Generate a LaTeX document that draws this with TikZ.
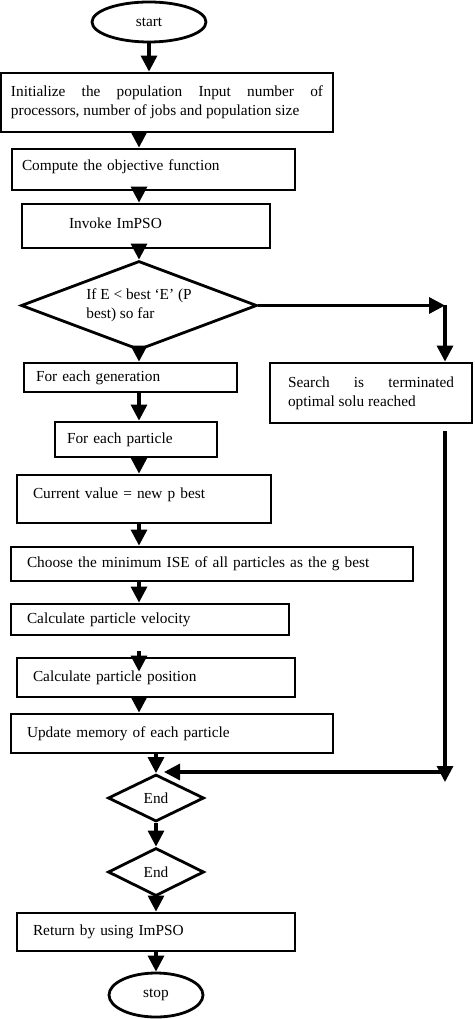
\documentclass[tikz,border=0pt]{standalone}
\usepackage{fontspec}
\setmainfont{Liberation Serif}
\usetikzlibrary{arrows.meta,shapes.geometric,calc}
\hyphenpenalty=10000
\exhyphenpenalty=10000

\begin{document}
\begin{tikzpicture}[x=.75pt, y=-.75pt, line width=2.1pt,
  font=\fontsize{11.5}{14.2}\selectfont,
  box/.style={draw, rectangle, inner ysep=0pt, inner xsep=12pt, align=left},
  term/.style={draw, ellipse, inner sep=0pt},
  test/.style={draw, diamond, inner sep=0pt, aspect=2.6},
  arr/.style={line width=2.4pt, -{Triangle[length=12pt,width=12pt]}}]
  \useasboundingbox (0,0) rectangle (474,1019);
  \node [term, minimum width=85.5pt, minimum height=30pt] (start) at (149,22) {start};
  \node [box, text width=234pt, inner xsep=7.5pt, minimum height=44.25pt, align=justify] (init) at (167,102.5)
    {Initialize the population Input number of processors, number of jobs and population size};
  \node [box, text width=197.25pt, inner xsep=7.5pt, minimum height=30.75pt, text depth=6pt] (compute) at (153.5,169.5) {Compute the objective function};
  \node [box, text width=115.5pt, inner xsep=35.25pt, minimum height=33pt, text depth=4pt] (invoke) at (146,226) {Invoke ImPSO};
  \node [test, minimum width=177pt, minimum height=66.75pt, align=left] (dec) at (139,305.5) {If E < best ‘E’ (P\\best) so far};
  \node [box, text width=124.5pt, inner xsep=13.5pt, minimum height=45pt, align=justify] (search) at (371,393)
    {Search is terminated optimal solu reached};
  \node [box, text width=141.75pt, inner xsep=9pt, minimum height=21.75pt] (gen) at (130.5,377.5) {For each generation};
  \node [box, text width=103.5pt, inner xsep=9pt, minimum height=26.25pt] (particle) at (136,439.5) {For each particle};
  \node [box, text width=166.5pt, minimum height=36pt, text depth=9pt] (current) at (144,499) {Current value = new p best};
  \node [box, text width=277.5pt, minimum height=25.5pt] (choose) at (212,564) {Choose the minimum ISE of all particles as the g best};
  \node [box, text width=184.5pt, minimum height=23.25pt] (velocity) at (150,619.5) {Calculate particle velocity};
  \node [box, text width=184.5pt, minimum height=29.25pt] (position) at (156,677.5) {Calculate particle position};
  \node [box, text width=217.5pt, minimum height=29.25pt] (update) at (172,733.5) {Update memory of each particle};
  \node [test, aspect=2, minimum width=72pt, minimum height=35.25pt] (end1) at (156,798) {End};
  \node [test, aspect=2, minimum width=72pt, minimum height=36pt] (end2) at (156,872) {End};
  \node [box, text width=184.5pt, minimum height=28.5pt] (return) at (156,932) {Return by using ImPSO};
  \node [term, minimum width=70.5pt, minimum height=33pt] (stop) at (156,995) {stop};
  \coordinate (turn) at (445,305.5);
  \coordinate (drop) at (445,782);
  \coordinate (join) at (445,772);
  \draw [arr] (start.south) -- (start.south |- init.north);
  \draw [arr] (init.south -| dec) -- (compute.north -| dec);
  \draw [arr] (compute.south -| dec) -- (invoke.north -| dec);
  \draw [arr] (invoke.south -| dec) -- (dec.north);
  \draw [arr] (dec.east) -- (turn);
  \draw [arr] (turn) -- (turn |- search.north);
  \draw [arr] (dec.south) -- (gen.north -| dec);
  \draw [arr] (gen.south -| dec) -- (particle.north -| dec);
  \draw [arr] (particle.south -| dec) -- (current.north -| dec);
  \draw [arr] (current.south -| dec) -- (choose.north -| dec);
  \draw [arr] (choose.south -| dec) -- (velocity.north -| dec);
  \draw [arr] ($(velocity.south -| dec)+(0,15)$) -- ($(position.north -| dec)+(0,15)$);
  \draw [arr] (position.south -| dec) -- (update.north -| dec);
  \draw [arr] (update.south -| end1) -- (end1.north);
  \draw [arr] ($(search.south -| turn)+(0,7)$) -- (drop);
  \draw [arr] (join) -- ($(join -| end1.north)+(8,0)$);
  \draw [arr] (end1.south) -- (end2.north);
  \draw [arr] (end2.south) -- (return.north -| end2);
  \draw [arr] (return.south -| end2) -- (stop.north);
\end{tikzpicture}
\end{document}
